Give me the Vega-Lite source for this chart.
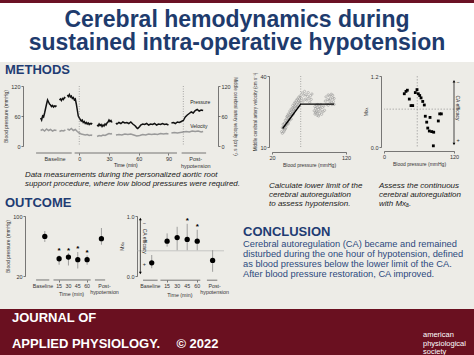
{
"$schema": "https://vega.github.io/schema/vega-lite/v6.json",
"padding": 0,
"background": "#edece7",
"columns": 1,
"spacing": 0,
"config": {
  "font": "Liberation Sans",
  "view": {"stroke": null},
  "axis": {"labelFontSize": 5.5, "titleFontSize": 5, "titleFontWeight": "normal", "labelColor": "#333", "titleColor": "#333", "domainColor": "#444", "tickColor": "#444", "tickSize": 2, "labelPadding": 1, "titlePadding": 2, "grid": false, "domainWidth": 0.7, "tickWidth": 0.7, "labelOverlap": false, "labelFlush": false, "labelBound": false},
  "title": {"fontWeight": "bold"}
},
"concat": [
{
  "width": 474, "height": 3, "view": {"fill": "#6b1225"},
  "data": {"values": []}, "mark": "point", "encoding": {}
},
{
  "width": 474, "height": 59, "view": {"fill": "#ffffff"},
  "data": {"values": [{"ln": "a", "txt": "Cerebral hemodynamics during"}, {"ln": "b", "txt": "sustained intra-operative hypotension"}]},
  "mark": {"type": "text", "fontSize": 23, "fontWeight": "bold", "color": "#1e3b6d", "align": "center", "baseline": "middle"},
  "encoding": {
    "y": {"field": "ln", "type": "nominal", "scale": {"type": "point", "padding": 0.75, "align": 0.47}, "axis": null},
    "text": {"field": "txt"}
  }
},
{
  "columns": 2, "spacing": 3,
  "concat": [
    {
      "columns": 1, "spacing": 0,
      "concat": [
        {"width": 10, "height": 1, "data": {"values": []}, "mark": "point", "encoding": {}},
        {
          "title": {"text": "METHODS", "anchor": "start", "fontSize": 13, "color": "#1f3c73", "offset": 0, "dx": 5},
          "columns": 1,
          "concat": [
            {
              "width": 218, "height": 60,
              "title": {"text": ["Data measurements during the personalized aortic root", "support procedure, where low blood pressures were required."], "orient": "bottom", "anchor": "start", "frame": "group", "fontSize": 7.9, "fontStyle": "italic", "fontWeight": "normal", "color": "#1a1a1a", "lineHeight": 9, "offset": 2, "dx": 25},
              "data": {"values": [
{"s":"P","g":1,"t":-39,"v":56},{"s":"P","g":1,"t":-38,"v":52},{"s":"P","g":1,"t":-37,"v":60},{"s":"P","g":1,"t":-36,"v":58},{"s":"P","g":1,"t":-35,"v":66},{"s":"P","g":1,"t":-34,"v":75},{"s":"P","g":1,"t":-33,"v":84},{"s":"P","g":1,"t":-32,"v":92},{"s":"P","g":1,"t":-31,"v":88},{"s":"P","g":1,"t":-30,"v":84},{"s":"P","g":1,"t":-29,"v":82},{"s":"P","g":1,"t":-28,"v":79},{"s":"P","g":1,"t":-27,"v":81},{"s":"P","g":1,"t":-26,"v":78},{"s":"P","g":1,"t":-25,"v":80},{"s":"P","g":1,"t":-24,"v":79},{"s":"P","g":1,"t":-23,"v":81},
{"s":"P","g":2,"t":-20,"v":92},{"s":"P","g":2,"t":-19,"v":94},{"s":"P","g":2,"t":-18,"v":91},{"s":"P","g":2,"t":-17,"v":95},{"s":"P","g":2,"t":-16,"v":93},{"s":"P","g":2,"t":-15,"v":97},{"s":"P","g":2,"t":-14,"v":96},
{"s":"P","g":3,"t":-12,"v":102},{"s":"P","g":3,"t":-11,"v":99},{"s":"P","g":3,"t":-10,"v":103},{"s":"P","g":3,"t":-9,"v":98},{"s":"P","g":3,"t":-8,"v":100},{"s":"P","g":3,"t":-7,"v":95},{"s":"P","g":3,"t":-6,"v":97},{"s":"P","g":3,"t":-5,"v":92},{"s":"P","g":3,"t":-4,"v":94},{"s":"P","g":3,"t":-3,"v":84},{"s":"P","g":3,"t":-2,"v":72},{"s":"P","g":3,"t":-1,"v":60},{"s":"P","g":3,"t":0,"v":56},{"s":"P","g":3,"t":1,"v":53},{"s":"P","g":3,"t":2,"v":50},{"s":"P","g":3,"t":3,"v":52},{"s":"P","g":3,"t":4,"v":47},{"s":"P","g":3,"t":5,"v":49},{"s":"P","g":3,"t":6,"v":45},{"s":"P","g":3,"t":7,"v":47},{"s":"P","g":3,"t":8,"v":44},{"s":"P","g":3,"t":9,"v":46},{"s":"P","g":3,"t":10,"v":43},{"s":"P","g":3,"t":11,"v":45},{"s":"P","g":3,"t":12,"v":44},{"s":"P","g":3,"t":13,"v":46},
{"s":"P","g":4,"t":18,"v":42},{"s":"P","g":4,"t":19,"v":40},{"s":"P","g":4,"t":20,"v":44},{"s":"P","g":4,"t":21,"v":41},{"s":"P","g":4,"t":22,"v":43},{"s":"P","g":4,"t":23,"v":39},{"s":"P","g":4,"t":24,"v":42},{"s":"P","g":4,"t":25,"v":40},{"s":"P","g":4,"t":26,"v":44},{"s":"P","g":4,"t":27,"v":42},{"s":"P","g":4,"t":28,"v":46},{"s":"P","g":4,"t":29,"v":48},{"s":"P","g":4,"t":30,"v":52},{"s":"P","g":4,"t":31,"v":49},{"s":"P","g":4,"t":32,"v":51},{"s":"P","g":4,"t":33,"v":47},
{"s":"P","g":5,"t":37,"v":46},{"s":"P","g":5,"t":38,"v":44},{"s":"P","g":5,"t":40,"v":47},{"s":"P","g":5,"t":42,"v":45},{"s":"P","g":5,"t":44,"v":48},{"s":"P","g":5,"t":46,"v":46},{"s":"P","g":5,"t":48,"v":47},{"s":"P","g":5,"t":50,"v":45},{"s":"P","g":5,"t":52,"v":48},{"s":"P","g":5,"t":54,"v":44},{"s":"P","g":5,"t":56,"v":41},{"s":"P","g":5,"t":57,"v":39},{"s":"P","g":5,"t":58,"v":36},{"s":"P","g":5,"t":59,"v":35},{"s":"P","g":5,"t":60,"v":37},{"s":"P","g":5,"t":61,"v":39},{"s":"P","g":5,"t":62,"v":42},{"s":"P","g":5,"t":64,"v":44},{"s":"P","g":5,"t":66,"v":43},{"s":"P","g":5,"t":68,"v":45},{"s":"P","g":5,"t":70,"v":42},{"s":"P","g":5,"t":72,"v":44},{"s":"P","g":5,"t":74,"v":43},{"s":"P","g":5,"t":76,"v":45},{"s":"P","g":5,"t":78,"v":42},{"s":"P","g":5,"t":80,"v":44},{"s":"P","g":5,"t":82,"v":43},{"s":"P","g":5,"t":84,"v":45},{"s":"P","g":5,"t":86,"v":43},{"s":"P","g":5,"t":88,"v":44},{"s":"P","g":5,"t":90,"v":42},
{"s":"P","g":6,"t":93,"v":46},{"s":"P","g":6,"t":95,"v":47},{"s":"P","g":6,"t":97,"v":45},{"s":"P","g":6,"t":99,"v":48},{"s":"P","g":6,"t":101,"v":47},{"s":"P","g":6,"t":103,"v":49},{"s":"P","g":6,"t":105,"v":51},{"s":"P","g":6,"t":107,"v":58},{"s":"P","g":6,"t":109,"v":62},{"s":"P","g":6,"t":111,"v":65},{"s":"P","g":6,"t":113,"v":68},{"s":"P","g":6,"t":115,"v":66},{"s":"P","g":6,"t":117,"v":71},{"s":"P","g":6,"t":119,"v":73},{"s":"P","g":6,"t":121,"v":70},{"s":"P","g":6,"t":123,"v":72},{"s":"P","g":6,"t":125,"v":71},
{"s":"V","g":1,"t":-39,"v":31},{"s":"V","g":1,"t":-37,"v":33},{"s":"V","g":1,"t":-35,"v":30},{"s":"V","g":1,"t":-33,"v":34},{"s":"V","g":1,"t":-31,"v":31},{"s":"V","g":1,"t":-29,"v":33},{"s":"V","g":1,"t":-27,"v":30},{"s":"V","g":1,"t":-25,"v":32},{"s":"V","g":1,"t":-23,"v":31},
{"s":"V","g":2,"t":-20,"v":29},{"s":"V","g":2,"t":-18,"v":31},{"s":"V","g":2,"t":-16,"v":30},{"s":"V","g":2,"t":-14,"v":32},
{"s":"V","g":3,"t":-12,"v":34},{"s":"V","g":3,"t":-10,"v":32},{"s":"V","g":3,"t":-8,"v":35},{"s":"V","g":3,"t":-6,"v":31},{"s":"V","g":3,"t":-4,"v":33},{"s":"V","g":3,"t":-2,"v":29},{"s":"V","g":3,"t":0,"v":26},{"s":"V","g":3,"t":2,"v":24},{"s":"V","g":3,"t":4,"v":23},{"s":"V","g":3,"t":6,"v":22},{"s":"V","g":3,"t":8,"v":23},{"s":"V","g":3,"t":10,"v":21},{"s":"V","g":3,"t":12,"v":22},{"s":"V","g":3,"t":13,"v":21},
{"s":"V","g":4,"t":18,"v":19},{"s":"V","g":4,"t":20,"v":21},{"s":"V","g":4,"t":22,"v":20},{"s":"V","g":4,"t":24,"v":22},{"s":"V","g":4,"t":26,"v":21},{"s":"V","g":4,"t":28,"v":23},{"s":"V","g":4,"t":30,"v":25},{"s":"V","g":4,"t":32,"v":24},{"s":"V","g":4,"t":33,"v":25},
{"s":"V","g":5,"t":37,"v":22},{"s":"V","g":5,"t":40,"v":23},{"s":"V","g":5,"t":43,"v":22},{"s":"V","g":5,"t":46,"v":24},{"s":"V","g":5,"t":49,"v":23},{"s":"V","g":5,"t":52,"v":24},{"s":"V","g":5,"t":55,"v":22},{"s":"V","g":5,"t":58,"v":20},{"s":"V","g":5,"t":61,"v":21},{"s":"V","g":5,"t":64,"v":23},{"s":"V","g":5,"t":67,"v":22},{"s":"V","g":5,"t":70,"v":24},{"s":"V","g":5,"t":73,"v":23},{"s":"V","g":5,"t":76,"v":24},{"s":"V","g":5,"t":79,"v":23},{"s":"V","g":5,"t":82,"v":25},{"s":"V","g":5,"t":85,"v":24},{"s":"V","g":5,"t":88,"v":25},{"s":"V","g":5,"t":90,"v":24},
{"s":"V","g":6,"t":93,"v":26},{"s":"V","g":6,"t":96,"v":27},{"s":"V","g":6,"t":99,"v":26},{"s":"V","g":6,"t":102,"v":27},{"s":"V","g":6,"t":105,"v":28},{"s":"V","g":6,"t":108,"v":29},{"s":"V","g":6,"t":111,"v":28},{"s":"V","g":6,"t":114,"v":30},{"s":"V","g":6,"t":117,"v":29},{"s":"V","g":6,"t":120,"v":30},{"s":"V","g":6,"t":123,"v":28},{"s":"V","g":6,"t":125,"v":29}
              ]},
              "layer": [
                {
                  "transform": [{"filter": "datum.s == 'P'"}],
                  "mark": {"type": "line", "color": "#111", "strokeWidth": 1.5},
                  "encoding": {
                    "x": {"field": "t", "type": "quantitative", "title": null, "scale": {"domain": [-74, 132.7]}, "axis": {"values": [-25, 0, 30, 60, 90, 117], "labelExpr": "datum.value == -25 ? 'Baseline' : datum.value == 117 ? ['Post-', 'hypotension'] : datum.label", "offset": 7, "domain": false, "labelOverlap": false, "tickOpacity": {"condition": {"test": "datum.value == -25 || datum.value == 117", "value": 0}, "value": 1}}},
                    "y": {"field": "v", "type": "quantitative", "title": "Blood pressure (mmHg)", "scale": {"domain": [0, 120]}, "axis": {"values": [0, 60, 120], "offset": -23}},
                    "detail": {"field": "g"}
                  }
                },
                {
                  "transform": [{"filter": "datum.s == 'V'"}],
                  "mark": {"type": "line", "color": "#9a9a9a", "strokeWidth": 1.5},
                  "encoding": {
                    "x": {"field": "t", "type": "quantitative", "title": null},
                    "y": {"field": "v", "type": "quantitative", "title": "Middle cerebral artery velocity (cm s⁻¹)", "scale": {"domain": [0, 120]}, "axis": {"orient": "right", "values": [0, 60, 120], "titleFontSize": 4.6}},
                    "detail": {"field": "g"}
                  }
                },
                {
                  "data": {"values": [{"t": 0}, {"t": 105}]},
                  "mark": {"type": "rule", "color": "#777", "strokeDash": [1, 1.5], "strokeWidth": 0.6},
                  "encoding": {"x": {"field": "t", "type": "quantitative", "title": null}}
                },
                {
                  "data": {"values": [{"a": -43.6, "b": -7.6}, {"a": -4.7, "b": 98.6}, {"a": 103.3, "b": 128}]},
                  "mark": {"type": "rule", "color": "#444", "strokeWidth": 0.7},
                  "encoding": {
                    "x": {"field": "a", "type": "quantitative", "title": null}, "x2": {"field": "b"},
                    "y": {"datum": -14, "type": "quantitative", "scale": {"domain": [0, 120]}, "axis": null}
                  }
                },
                {
                  "data": {"values": [{"t": 112, "v": 88, "lab": "Pressure"}, {"t": 112, "v": 40, "lab": "Velocity"}, {"t": 35, "v": -38, "lab": "Time (min)"}]},
                  "mark": {"type": "text", "fontSize": 5, "color": "#222", "align": "left"},
                  "encoding": {
                    "x": {"field": "t", "type": "quantitative", "title": null},
                    "y": {"field": "v", "type": "quantitative", "scale": {"domain": [0, 120]}, "axis": null},
                    "text": {"field": "lab"}
                  }
                }
              ],
              "resolve": {"scale": {"y": "independent"}}
            }
          ]
        },
        {"width": 10, "height": 8.7, "data": {"values": []}, "mark": "point", "encoding": {}},
        {
          "title": {"text": "OUTCOME", "anchor": "start", "fontSize": 13, "color": "#1f3c73", "offset": 4, "dx": 5},
          "columns": 2, "spacing": 0,
          "concat": [
            {
              "width": 112, "height": 60,
              "data": {"values": [
                {"t": -8, "m": 72.8, "lo": 65.4, "hi": 80},
                {"t": 15, "m": 43, "lo": 35, "hi": 47.5, "st": 52.8},
                {"t": 30, "m": 45.3, "lo": 34, "hi": 50.5, "st": 53.5},
                {"t": 45, "m": 41.7, "lo": 30, "hi": 52, "st": 56.5},
                {"t": 60, "m": 41.7, "lo": 35, "hi": 47.5, "st": 51},
                {"t": 83, "m": 69.7, "lo": 61.7, "hi": 84}
              ]},
              "layer": [
                {
                  "mark": {"type": "rule", "color": "#8a8a8a", "strokeWidth": 0.8},
                  "encoding": {
                    "x": {"field": "t", "type": "quantitative", "title": null, "scale": {"domain": [-64.5, 94.5]}, "axis": {"values": [15, 30, 45, 60], "offset": 4, "domain": false, "labels": false}},
                    "y": {"field": "lo", "type": "quantitative", "title": "Blood pressure (mmHg)", "scale": {"domain": [20, 100]}, "axis": {"values": [20, 60, 100], "offset": -25}},
                    "y2": {"field": "hi"}
                  }
                },
                {
                  "mark": {"type": "circle", "color": "#000", "size": 28, "opacity": 1},
                  "encoding": {
                    "x": {"field": "t", "type": "quantitative", "title": null},
                    "y": {"field": "m", "type": "quantitative", "title": "Blood pressure (mmHg)"}
                  }
                },
                {
                  "transform": [{"filter": "isValid(datum.st)"}],
                  "mark": {"type": "text", "text": "*", "fontSize": 8, "fontWeight": "bold", "baseline": "middle", "color": "#000"},
                  "encoding": {
                    "x": {"field": "t", "type": "quantitative", "title": null},
                    "y": {"field": "st", "type": "quantitative", "title": "Blood pressure (mmHg)"}
                  }
                },
                {
                  "data": {"values": [{"a": -22, "b": -0.8}, {"a": 6, "b": 65.7}, {"a": 72.6, "b": 89}]},
                  "mark": {"type": "rule", "color": "#444", "strokeWidth": 0.7},
                  "encoding": {
                    "x": {"field": "a", "type": "quantitative", "title": null}, "x2": {"field": "b"},
                    "y": {"datum": 14.7, "type": "quantitative", "title": "Blood pressure (mmHg)"}
                  }
                },
                {
                  "data": {"values": [{"t": 35, "y": -4.3, "lab": "Time (min)"}, {"t": -11, "y": 6.3, "lab": "Baseline"}, {"t": 15, "y": 6.3, "lab": "15"}, {"t": 30, "y": 6.3, "lab": "30"}, {"t": 45, "y": 6.3, "lab": "45"}, {"t": 60, "y": 6.3, "lab": "60"}, {"t": 88, "y": 6.3, "lab": "Post-"}, {"t": 88, "y": -1.7, "lab": "hypotension"}]},
                  "mark": {"type": "text", "fontSize": 5.3, "color": "#333"},
                  "encoding": {
                    "x": {"field": "t", "type": "quantitative", "title": null},
                    "y": {"field": "y", "type": "quantitative", "title": "Blood pressure (mmHg)"},
                    "text": {"field": "lab"}
                  }
                }
              ]
            },
            {
              "width": 87, "height": 60,
              "layer": [
                {
                  "data": {"values": [{"y": 0.42}]},
                  "mark": {"type": "rule", "color": "#aaa", "strokeWidth": 0.6},
                  "encoding": {"y": {"field": "y", "type": "quantitative", "title": "Mxₐ", "scale": {"domain": [0, 1]}, "axis": {"values": [0, 0.5, 1], "format": ".1f"}}}
                },
                {
                  "data": {"values": [
                    {"t": -8, "m": 0.22, "lo": 0.13, "hi": 0.35},
                    {"t": 15, "m": 0.58, "lo": 0.49, "hi": 0.71},
                    {"t": 30, "m": 0.64, "lo": 0.43, "hi": 0.82},
                    {"t": 45, "m": 0.61, "lo": 0.43, "hi": 0.87, "st": 0.91},
                    {"t": 60, "m": 0.58, "lo": 0.43, "hi": 0.77, "st": 0.81},
                    {"t": 83, "m": 0.26, "lo": 0.07, "hi": 0.43}
                  ]},
                  "layer": [
                    {
                      "mark": {"type": "rule", "color": "#8a8a8a", "strokeWidth": 0.8},
                      "encoding": {
                        "x": {"field": "t", "type": "quantitative", "title": null, "scale": {"domain": [-28, 96]}, "axis": {"values": [15, 30, 45, 60], "offset": 4, "domain": false, "labels": false}},
                        "y": {"field": "lo", "type": "quantitative", "title": "Mxₐ"},
                        "y2": {"field": "hi"}
                      }
                    },
                    {
                      "mark": {"type": "circle", "color": "#000", "size": 28, "opacity": 1},
                      "encoding": {
                        "x": {"field": "t", "type": "quantitative", "title": null},
                        "y": {"field": "m", "type": "quantitative", "title": "Mxₐ"}
                      }
                    },
                    {
                      "transform": [{"filter": "isValid(datum.st)"}],
                      "mark": {"type": "text", "text": "*", "fontSize": 8, "fontWeight": "bold", "baseline": "middle", "color": "#000"},
                      "encoding": {
                        "x": {"field": "t", "type": "quantitative", "title": null},
                        "y": {"field": "st", "type": "quantitative", "title": "Mxₐ"}
                      }
                    }
                  ]
                },
                {
                  "data": {"values": [{"a": -21, "b": 0.8}, {"a": 5, "b": 64.6}, {"a": 74.5, "b": 90}]},
                  "mark": {"type": "rule", "color": "#444", "strokeWidth": 0.7},
                  "encoding": {
                    "x": {"field": "a", "type": "quantitative", "title": null}, "x2": {"field": "b"},
                    "y": {"datum": -0.07, "type": "quantitative", "title": "Mxₐ"}
                  }
                },
                {
                  "data": {"values": [{"t": 34, "y": -0.31, "lab": "Time (min)"}, {"t": -10, "y": -0.17, "lab": "Baseline"}, {"t": 15, "y": -0.17, "lab": "15"}, {"t": 30, "y": -0.17, "lab": "30"}, {"t": 45, "y": -0.17, "lab": "45"}, {"t": 60, "y": -0.17, "lab": "60"}, {"t": 86, "y": -0.17, "lab": "Post-"}, {"t": 86, "y": -0.27, "lab": "hypotension"}]},
                  "mark": {"type": "text", "fontSize": 5.3, "color": "#333"},
                  "encoding": {
                    "x": {"field": "t", "type": "quantitative", "title": null},
                    "y": {"field": "y", "type": "quantitative", "title": "Mxₐ"},
                    "text": {"field": "lab"}
                  }
                },
                {
                  "data": {"values": [{"x": -25, "y1": 0.06, "y2": 0.94}]},
                  "mark": {"type": "rule", "color": "#000", "strokeWidth": 0.7},
                  "encoding": {"x": {"field": "x", "type": "quantitative", "title": null}, "y": {"field": "y1", "type": "quantitative", "title": "Mxₐ"}, "y2": {"field": "y2"}}
                },
                {
                  "data": {"values": [{"x": -25, "y": 0.95}]},
                  "mark": {"type": "point", "shape": "triangle-up", "size": 8, "filled": true, "color": "#000", "opacity": 1},
                  "encoding": {"x": {"field": "x", "type": "quantitative", "title": null}, "y": {"field": "y", "type": "quantitative", "title": "Mxₐ"}}
                },
                {
                  "data": {"values": [{"x": -25, "y": 0.05}]},
                  "mark": {"type": "point", "shape": "triangle-down", "size": 8, "filled": true, "color": "#000", "opacity": 1},
                  "encoding": {"x": {"field": "x", "type": "quantitative", "title": null}, "y": {"field": "y", "type": "quantitative", "title": "Mxₐ"}}
                },
                {
                  "data": {"values": [{"x": -19, "y": 0.88, "lab": "−"}, {"x": -19, "y": 0.2, "lab": "+"}]},
                  "mark": {"type": "text", "fontSize": 5.5, "color": "#222"},
                  "encoding": {"x": {"field": "x", "type": "quantitative", "title": null}, "y": {"field": "y", "type": "quantitative", "title": "Mxₐ"}, "text": {"field": "lab"}}
                },
                {
                  "data": {"values": [{"x": -18, "y": 0.58, "lab": "CA efficacy"}]},
                  "mark": {"type": "text", "fontSize": 5, "color": "#222", "angle": 90},
                  "encoding": {"x": {"field": "x", "type": "quantitative", "title": null}, "y": {"field": "y", "type": "quantitative", "title": "Mxₐ"}, "text": {"field": "lab"}}
                }
              ]
            }
          ]
        },
        {"width": 10, "height": 11, "data": {"values": []}, "mark": "point", "encoding": {}}
      ]
    },
    {
      "columns": 1, "spacing": 0,
      "concat": [
        {"width": 10, "height": 9.5, "data": {"values": []}, "mark": "point", "encoding": {}},
        {
          "columns": 2, "spacing": 0,
          "concat": [
            {
              "width": 74, "height": 71,
              "title": {"text": ["Calculate lower limit of the", "cerebral autoregulation", "to assess hypotension."], "orient": "bottom", "anchor": "start", "frame": "group", "fontSize": 8, "fontStyle": "italic", "fontWeight": "normal", "color": "#1a1a1a", "lineHeight": 9, "offset": 14, "dx": -3},
              "layer": [
                {
                  "data": {"values": [
{"x":33,"y":16.5},{"x":34,"y":18.2},{"x":34,"y":15.8},{"x":35,"y":17.9},{"x":35,"y":19.6},{"x":36,"y":16.4},{"x":36,"y":18.8},{"x":37,"y":20.1},{"x":37,"y":17.2},{"x":38,"y":19.0},{"x":38,"y":21.3},{"x":38,"y":17.6},{"x":39,"y":20.5},{"x":39,"y":18.3},{"x":40,"y":21.9},{"x":40,"y":19.4},{"x":40,"y":22.8},{"x":41,"y":20.2},{"x":41,"y":23.1},{"x":42,"y":21.5},{"x":42,"y":19.8},{"x":42,"y":24.0},{"x":43,"y":22.6},{"x":43,"y":20.9},{"x":44,"y":23.8},{"x":44,"y":21.7},{"x":44,"y":25.2},{"x":45,"y":22.9},{"x":45,"y":24.6},{"x":46,"y":23.5},{"x":46,"y":26.1},{"x":46,"y":21.8},{"x":47,"y":25.0},{"x":47,"y":23.2},{"x":48,"y":26.4},{"x":48,"y":24.3},{"x":48,"y":27.5},{"x":49,"y":25.7},{"x":49,"y":23.9},{"x":50,"y":27.0},{"x":50,"y":25.1},{"x":50,"y":28.3},{"x":51,"y":26.2},{"x":51,"y":28.9},{"x":52,"y":27.4},{"x":52,"y":25.6},{"x":53,"y":28.1},{"x":53,"y":29.6},{"x":54,"y":27.0},{"x":54,"y":30.2},{"x":55,"y":28.7},{"x":55,"y":26.9},{"x":56,"y":29.5},{"x":56,"y":31.0},{"x":57,"y":28.2},{"x":57,"y":30.4},{"x":58,"y":29.1},{"x":58,"y":31.6},
{"x":60,"y":30.5},{"x":61,"y":32.8},{"x":62,"y":29.4},{"x":63,"y":31.9},{"x":64,"y":33.5},{"x":65,"y":30.2},{"x":66,"y":32.1},{"x":67,"y":29.8},{"x":68,"y":31.4},{"x":69,"y":33.0},{"x":70,"y":30.6},{"x":71,"y":28.9},{"x":72,"y":31.7},{"x":73,"y":30.1},{"x":74,"y":32.4},
{"x":77,"y":25.3},{"x":78,"y":27.1},{"x":78,"y":23.9},{"x":79,"y":26.2},{"x":79,"y":24.5},{"x":80,"y":27.8},{"x":80,"y":25.0},{"x":81,"y":23.4},{"x":81,"y":26.6},{"x":82,"y":28.0},{"x":82,"y":24.8},{"x":83,"y":25.9},{"x":83,"y":23.1},{"x":84,"y":27.2},{"x":84,"y":24.1},{"x":85,"y":26.4},{"x":86,"y":25.2},{"x":86,"y":27.9},{"x":87,"y":23.8},{"x":88,"y":26.7},{"x":89,"y":24.9},{"x":90,"y":27.3},{"x":91,"y":25.5},
{"x":92,"y":29.4},{"x":93,"y":31.2},{"x":94,"y":28.1},{"x":95,"y":30.0},{"x":96,"y":32.0},{"x":96,"y":27.6},{"x":97,"y":29.8},{"x":98,"y":31.5},{"x":98,"y":28.4},{"x":99,"y":30.3},{"x":100,"y":32.3},{"x":100,"y":29.0},{"x":101,"y":27.9},{"x":102,"y":30.8},{"x":102,"y":31.9},{"x":103,"y":29.2},{"x":104,"y":30.5},{"x":104,"y":28.0}
                  ]},
                  "mark": {"type": "point", "shape": "circle", "size": 5, "color": "#8c8c8c", "strokeWidth": 0.6, "opacity": 0.8},
                  "encoding": {
                    "x": {"field": "x", "type": "quantitative", "title": "Blood pressure (mmHg)", "scale": {"domain": [20, 120]}, "axis": {"values": [20, 70, 120], "offset": 5}},
                    "y": {"field": "y", "type": "quantitative", "title": "Middle cerebral artery velocity (cm s⁻¹)", "scale": {"domain": [10, 40]}, "axis": {"values": [10, 25, 40], "offset": 3, "titleFontSize": 4.6}}
                  }
                },
                {
                  "data": {"values": [{"x": 58.8}]},
                  "mark": {"type": "rule", "color": "#777", "strokeDash": [1, 1.5], "strokeWidth": 0.6},
                  "encoding": {"x": {"field": "x", "type": "quantitative", "title": "Blood pressure (mmHg)"}}
                },
                {
                  "data": {"values": [{"x": 34.4, "y": 17.8}, {"x": 58.8, "y": 28.1}, {"x": 104, "y": 28.1}]},
                  "mark": {"type": "line", "color": "#000", "strokeWidth": 1.4},
                  "encoding": {
                    "x": {"field": "x", "type": "quantitative", "title": "Blood pressure (mmHg)"},
                    "y": {"field": "y", "type": "quantitative", "title": "Middle cerebral artery velocity (cm s⁻¹)"}
                  }
                }
              ]
            },
            {
              "width": 70, "height": 71,
              "title": {"text": ["Assess the continuous", "cerebral autoregulation", "with Mxₐ."], "orient": "bottom", "anchor": "start", "frame": "group", "fontSize": 8, "fontStyle": "italic", "fontWeight": "normal", "color": "#1a1a1a", "lineHeight": 9, "offset": 15, "dx": -5},
              "layer": [
                {
                  "data": {"values": [{"y": 0.64}]},
                  "mark": {"type": "rule", "color": "#888", "strokeDash": [1.5, 1.5], "strokeWidth": 0.6},
                  "encoding": {"y": {"field": "y", "type": "quantitative", "title": "Mxₐ", "scale": {"domain": [0, 1.2]}, "axis": {"values": [0, 0.6, 1.2], "format": ".1f", "offset": 3}}}
                },
                {
                  "data": {"values": [{"x": 57}]},
                  "mark": {"type": "rule", "color": "#888", "strokeDash": [1.5, 1.5], "strokeWidth": 0.6},
                  "encoding": {"x": {"field": "x", "type": "quantitative", "title": "Blood pressure (mmHg)", "scale": {"domain": [0, 120]}, "axis": {"values": [0, 60, 120], "offset": 4}}}
                },
                {
                  "data": {"values": [
{"x":34.8,"y":0.90},{"x":37.7,"y":0.94},{"x":40,"y":0.96},{"x":43.4,"y":0.81},{"x":46.3,"y":0.70},{"x":49.2,"y":0.70},{"x":53.7,"y":0.92},{"x":56.6,"y":0.97},{"x":58.8,"y":0.90},{"x":61.2,"y":0.87},{"x":63.5,"y":0.83},{"x":66.4,"y":0.77},{"x":69.1,"y":0.71},{"x":70.8,"y":0.52},{"x":73.2,"y":0.42},{"x":78.9,"y":0.50},{"x":75,"y":0.32},{"x":77.7,"y":0.27},{"x":81.8,"y":0.26},{"x":85.2,"y":0.25},{"x":93.1,"y":0.44},{"x":95.5,"y":0.56},{"x":98.3,"y":0.56},{"x":84.6,"y":0.02}
                  ]},
                  "mark": {"type": "square", "color": "#000", "size": 8, "opacity": 1},
                  "encoding": {"x": {"field": "x", "type": "quantitative", "title": "Blood pressure (mmHg)"}, "y": {"field": "y", "type": "quantitative", "title": "Mxₐ"}}
                },
                {
                  "data": {"values": [{"x": 120, "y1": 0.06, "y2": 1.1}]},
                  "mark": {"type": "rule", "color": "#000", "strokeWidth": 0.7},
                  "encoding": {"x": {"field": "x", "type": "quantitative", "title": "Blood pressure (mmHg)"}, "y": {"field": "y1", "type": "quantitative", "title": "Mxₐ"}, "y2": {"field": "y2"}}
                },
                {
                  "data": {"values": [{"x": 120, "y": 1.11}]},
                  "mark": {"type": "point", "shape": "triangle-up", "size": 8, "filled": true, "color": "#000", "opacity": 1},
                  "encoding": {"x": {"field": "x", "type": "quantitative", "title": "Blood pressure (mmHg)"}, "y": {"field": "y", "type": "quantitative", "title": "Mxₐ"}}
                },
                {
                  "data": {"values": [{"x": 120, "y": 0.05}]},
                  "mark": {"type": "point", "shape": "triangle-down", "size": 8, "filled": true, "color": "#000", "opacity": 1},
                  "encoding": {"x": {"field": "x", "type": "quantitative", "title": "Blood pressure (mmHg)"}, "y": {"field": "y", "type": "quantitative", "title": "Mxₐ"}}
                },
                {
                  "data": {"values": [{"x": 127, "y": 1.1, "lab": "−"}, {"x": 127, "y": 0.12, "lab": "+"}]},
                  "mark": {"type": "text", "fontSize": 5.5, "color": "#222"},
                  "encoding": {"x": {"field": "x", "type": "quantitative", "title": "Blood pressure (mmHg)"}, "y": {"field": "y", "type": "quantitative", "title": "Mxₐ"}, "text": {"field": "lab"}}
                },
                {
                  "data": {"values": [{"x": 127, "y": 0.66, "lab": "CA efficacy"}]},
                  "mark": {"type": "text", "fontSize": 5, "color": "#222", "angle": 90},
                  "encoding": {"x": {"field": "x", "type": "quantitative", "title": "Blood pressure (mmHg)"}, "y": {"field": "y", "type": "quantitative", "title": "Mxₐ"}, "text": {"field": "lab"}}
                }
              ]
            }
          ]
        },
        {"width": 10, "height": 17, "data": {"values": []}, "mark": "point", "encoding": {}},
        {
          "width": 200, "height": 1,
          "title": {"text": "CONCLUSION", "subtitle": ["Cerebral autoregulation (CA) became and remained", "disturbed during the one hour of hypotension, defined", "as blood pressures below the lower limit of the CA.", "After blood pressure restoration, CA improved."], "anchor": "start", "fontSize": 13, "color": "#1f3c73", "subtitleFontSize": 9.3, "subtitleColor": "#2c4a7e", "subtitleLineHeight": 10, "subtitlePadding": 1, "dx": -29, "offset": 0},
          "data": {"values": []},
          "mark": "point",
          "encoding": {}
        }
      ]
    }
  ]
},
{
  "width": 474, "height": 52, "view": {"fill": "#6a1020"},
  "data": {"values": [
    {"blk": "j", "ln": "0", "txt": "JOURNAL OF"},
    {"blk": "j", "ln": "3", "txt": "APPLIED PHYSIOLOGY."},
    {"blk": "y", "ln": "3", "txt": "© 2022"},
    {"blk": "s", "ln": "2", "txt": "american"},
    {"blk": "s", "ln": "3", "txt": "physiological"},
    {"blk": "s", "ln": "4", "txt": "society"}
  ]},
  "encoding": {
    "x": {"field": "blk", "type": "nominal", "scale": {"type": "point", "domain": ["j", "a", "y", "b", "c", "s"], "padding": 0.383, "align": 0.19}, "axis": null},
    "y": {"field": "ln", "type": "nominal", "scale": {"type": "point", "domain": ["0", "1", "2", "3", "4"], "padding": 1.714, "align": 0.5}, "axis": null},
    "text": {"field": "txt"}
  },
  "layer": [
    {
      "transform": [{"filter": "datum.blk != 's'"}],
      "mark": {"type": "text", "color": "#ffffff", "fontSize": 13, "fontWeight": "bold", "align": "left", "baseline": "middle"}
    },
    {
      "transform": [{"filter": "datum.blk == 's'"}],
      "mark": {"type": "text", "color": "#ffffff", "fontSize": 7.5, "align": "left", "baseline": "middle"}
    }
  ]
}
]
}
